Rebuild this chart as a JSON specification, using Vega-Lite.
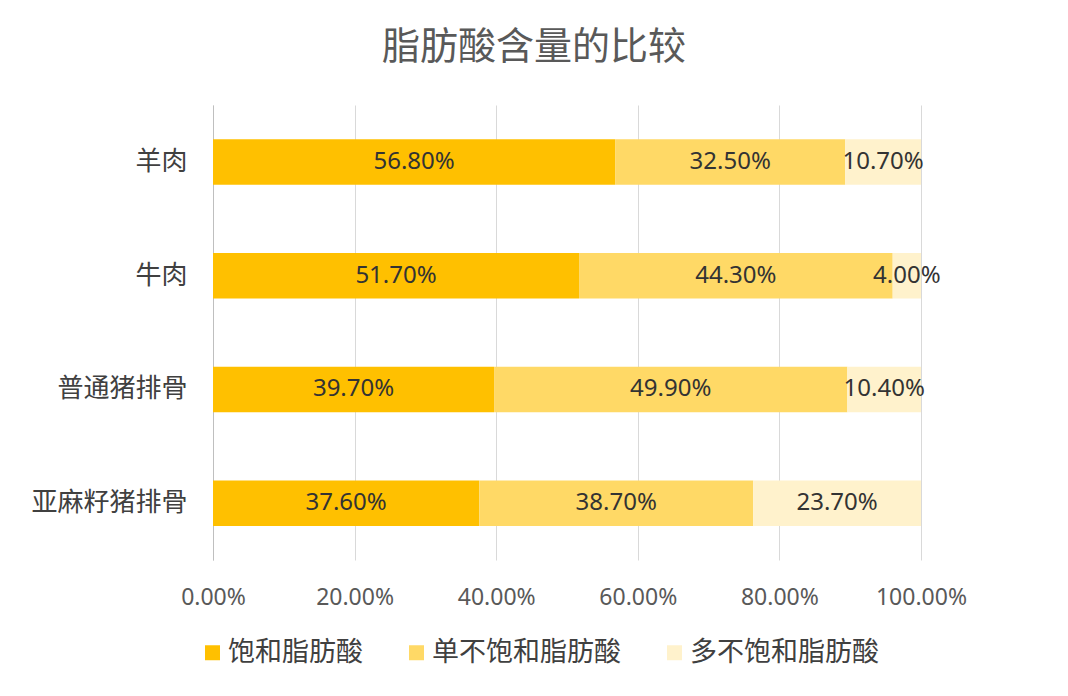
{
  "$schema": "https://vega.github.io/schema/vega-lite/v6.json",
  "autosize": "none",
  "width": 708,
  "height": 455,
  "padding": {"left": 213, "top": 105, "right": 147, "bottom": 136},
  "background": "white",
  "config": {"font": "Noto Sans CJK SC", "view": {"stroke": null}},
  "title": {"text": "脂肪酸含量的比较", "fontSize": 38, "fontWeight": "normal", "color": "#595959", "offset": 38, "dx": -33, "anchor": "middle"},
  "data": {"values": [
    {"cat": "羊肉", "type": "饱和脂肪酸", "ord": 1, "v": 0.568},
    {"cat": "羊肉", "type": "单不饱和脂肪酸", "ord": 2, "v": 0.325},
    {"cat": "羊肉", "type": "多不饱和脂肪酸", "ord": 3, "v": 0.107},
    {"cat": "牛肉", "type": "饱和脂肪酸", "ord": 1, "v": 0.517},
    {"cat": "牛肉", "type": "单不饱和脂肪酸", "ord": 2, "v": 0.443},
    {"cat": "牛肉", "type": "多不饱和脂肪酸", "ord": 3, "v": 0.04},
    {"cat": "普通猪排骨", "type": "饱和脂肪酸", "ord": 1, "v": 0.397},
    {"cat": "普通猪排骨", "type": "单不饱和脂肪酸", "ord": 2, "v": 0.499},
    {"cat": "普通猪排骨", "type": "多不饱和脂肪酸", "ord": 3, "v": 0.104},
    {"cat": "亚麻籽猪排骨", "type": "饱和脂肪酸", "ord": 1, "v": 0.376},
    {"cat": "亚麻籽猪排骨", "type": "单不饱和脂肪酸", "ord": 2, "v": 0.387},
    {"cat": "亚麻籽猪排骨", "type": "多不饱和脂肪酸", "ord": 3, "v": 0.237}
  ]},
  "transform": [
    {"stack": "v", "groupby": ["cat"], "sort": [{"field": "ord"}], "as": ["v0", "v1"]},
    {"calculate": "(datum.v0 + datum.v1) / 2", "as": "vmid"}
  ],
  "encoding": {
    "y": {"field": "cat", "type": "nominal", "sort": ["羊肉", "牛肉", "普通猪排骨", "亚麻籽猪排骨"],
      "scale": {"paddingInner": 0.6, "paddingOuter": 0.3},
      "axis": {"title": null, "ticks": false, "domain": true, "domainColor": "#BFBFBF", "labelFontSize": 26, "labelColor": "#404040", "labelPadding": 26}}
  },
  "layer": [
    {"mark": {"type": "bar"},
     "encoding": {
       "x": {"field": "v0", "type": "quantitative", "scale": {"domain": [0, 1], "nice": false},
         "axis": {"title": null, "format": ".2%", "values": [0, 0.2, 0.4, 0.6, 0.8, 1], "grid": true, "gridColor": "#D9D9D9", "domain": false, "ticks": false, "labelFontSize": 23, "labelColor": "#595959", "labelPadding": 26, "labelFont": "Noto Sans", "labelFlush": false}},
       "x2": {"field": "v1"},
       "color": {"field": "type", "type": "nominal",
         "scale": {"domain": ["饱和脂肪酸", "单不饱和脂肪酸", "多不饱和脂肪酸"], "range": ["#FFC000", "#FFD966", "#FFF2CC"]},
         "legend": {"title": null, "orient": "none", "legendX": -14, "legendY": 534, "direction": "horizontal", "symbolType": "square", "symbolSize": 225, "symbolStrokeWidth": 0, "labelFontSize": 27, "labelColor": "#404040", "labelLimit": 400, "columnPadding": 40, "labelOffset": 2}
       }}},
    {"mark": {"type": "text", "fontSize": 24, "color": "#333333", "font": "Noto Sans"},
     "encoding": {
       "x": {"field": "vmid", "type": "quantitative"},
       "text": {"field": "v", "type": "quantitative", "format": ".2%"}}}
  ]
}
